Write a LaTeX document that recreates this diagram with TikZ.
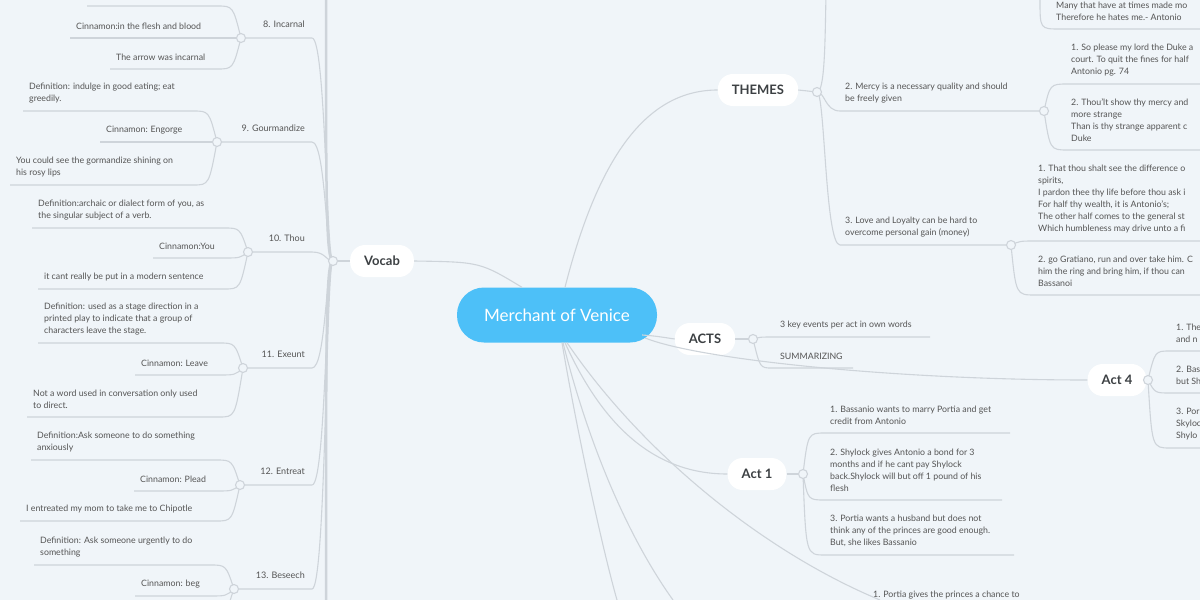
\documentclass[tikz,border=0pt]{standalone}
\usepackage{fontspec}
\setmainfont{Lato}
\definecolor{bg}{HTML}{F0F5F9}
\definecolor{ln}{HTML}{CED4DA}
\definecolor{tx}{HTML}{555555}
\definecolor{hd}{HTML}{3C4043}
\definecolor{mc}{HTML}{4DC0F8}
\tikzset{
 lnk/.style={draw=ln,line width=1.1pt},
 leaf/.style={inner sep=0pt,align=left,text=tx,font=\fontsize{8.8}{12}\selectfont,anchor=south west},
 term/.style={inner sep=0pt,text=tx,font=\fontsize{9}{12}\selectfont,anchor=south east},
 head/.style={fill=white,rounded corners=15pt,text=hd,font=\fontsize{13}{14}\bfseries\selectfont,minimum height=32pt,inner xsep=14pt},
 dot/.style={circle,draw=ln,fill=bg,line width=1.1pt,inner sep=0pt,minimum size=9pt}
}
\newcommand\lleaf[5]{%
 \draw[lnk] (#1,#2) .. controls (#1-8,#3) .. (#1-24,#3) -- (#4,#3);
 \node[leaf] at (#4+6,#3-8) {#5};}
\newcommand\rleaf[5]{%
 \draw[lnk] (#1,#2) .. controls (#1+8,#3) .. (#1+24,#3) -- (#4,#3);
 \node[leaf] at (#1+27,#3-8) {#5};}
\newcommand\vterm[3]{%
 \draw[lnk] (vc) .. controls (326,261) and (326,#2) .. (312,#2) -- (#1,#2);
 \node[term] at (305,#2-10) {#3};}
\begin{document}
\begin{tikzpicture}[x=1pt,y=-1pt]
\useasboundingbox[fill=bg] (0,0) rectangle (1200,600);
\node[fill=mc,rounded corners=27pt,minimum width=200pt,minimum height=55pt,text=white,font=\fontsize{17}{18}\selectfont] (mc) at (557,315) {Merchant of Venice};
\node[head] (vocab) at (382,261) {Vocab};
\node[head] (themes) at (758,90) {THEMES};
\node[head] (acts) at (705,339) {ACTS};
\node[head] (act1) at (757,474) {Act 1};
\node[head] (act4) at (1117,380) {Act 4};
\draw[lnk] (mc.north) ++(-35,0) .. controls (480,262) .. (vocab.east);
\draw[lnk] (mc.north) ++(8,0) .. controls (600,150) and (650,90) .. (themes.west);
\draw[lnk] (mc.east) ++(-15,20) .. controls (655,336) .. (acts.west);
\draw[lnk] (mc.east) ++(-12,23) .. controls (700,360) and (900,380) .. (act4.west);
\draw[lnk] (mc.south) ++(8,0) .. controls (600,420) and (650,474) .. (act1.west);
\draw[lnk] (mc.south) ++(5,0) .. controls (575,420) and (600,540) .. (617,600);
\draw[lnk] (mc.south) ++(6,0) .. controls (590,450) and (630,540) .. (673,600);
\draw[lnk] (mc.south) ++(10,0) .. controls (640,450) and (760,550) .. (880,600);
\coordinate (vc) at (333,261);
\draw[lnk,line width=2.5pt] (vc) .. controls (326,261) and (326,200) .. (326,-5);
\draw[lnk,line width=2.5pt] (vc) .. controls (326,261) and (326,320) .. (326,605);
\draw[lnk] (vocab.west) -- (vc);
\vterm{241}{38}{8. Incarnal}
\lleaf{241}{38}{6}{87}{}
\lleaf{241}{38}{38}{70}{Cinnamon:in the flesh and blood}
\lleaf{241}{38}{69}{110}{The arrow was incarnal}
\node[dot] at (241,38) {};
\vterm{217}{142}{9. Gourmandize}
\lleaf{217}{142}{111}{23}{Definition: indulge in good eating; eat\\greedily.}
\lleaf{217}{142}{142}{100}{Cinnamon: Engorge}
\lleaf{217}{142}{185}{10}{You could see the gormandize shining on\\his rosy lips}
\node[dot] at (217,142) {};
\vterm{248}{252}{10. Thou}
\lleaf{248}{252}{228}{32}{Definition:archaic or dialect form of you, as\\the singular subject of a verb.}
\lleaf{248}{252}{258}{153}{Cinnamon:You}
\lleaf{248}{252}{289}{38}{it cant really be put in a modern sentence}
\node[dot] at (248,252) {};
\vterm{243}{368}{11. Exeunt}
\lleaf{243}{368}{343}{38}{Definition: used as a stage direction in a\\printed play to indicate that a group of\\characters leave the stage.}
\lleaf{243}{368}{375}{135}{Cinnamon: Leave}
\lleaf{243}{368}{417}{27}{Not a word used in conversation only used\\to direct.}
\node[dot] at (243,368) {};
\vterm{240}{485}{12. Entreat}
\lleaf{240}{485}{460}{31}{Definition:Ask someone to do something\\anxiously}
\lleaf{240}{485}{491}{134}{Cinnamon: Plead}
\lleaf{240}{485}{521}{20}{I entreated my mom to take me to Chipotle}
\node[dot] at (240,485) {};
\vterm{234}{589}{13. Beseech}
\lleaf{234}{589}{565}{34}{Definition: Ask someone urgently to do\\something}
\lleaf{234}{589}{596}{135}{Cinnamon: beg}
\draw[lnk] (234,589) .. controls (230,600) .. (229,610);
\node[dot] at (234,589) {};
\node[dot] at (vc) {};
\coordinate (tc) at (817,92);
\draw[lnk] (themes.east) -- (tc);
\draw[lnk] (tc) .. controls (825,92) and (825,40) .. (826,-5);
\draw[lnk] (tc) .. controls (825,92) and (825,111) .. (840,111) -- (1040,111);
\node[leaf] at (845,103) {2. Mercy is a necessary quality and should\\be freely given};
\draw[lnk] (tc) .. controls (825,92) and (825,245) .. (840,245) -- (1007,245);
\node[leaf] at (845,237) {3. Love and Loyalty can be hard to\\overcome personal gain (money)};
\node[dot] at (tc) {};
\draw[lnk] (1040,0) .. controls (1040,29) .. (1060,29) -- (1210,29);
\node[leaf] at (1056,21) {Many that have at times made mo\\Therefore he hates me.- Antonio};
\coordinate (m2) at (1044,111);
\draw[lnk] (m2) .. controls (1050,84) .. (1068,84) -- (1210,84);
\node[leaf] at (1071,76) {1. So please my lord the Duke a\\court. To quit the fines for half\\Antonio pg. 74};
\draw[lnk] (m2) .. controls (1050,150) .. (1068,150) -- (1210,150);
\node[leaf] at (1071,142) {2. Thou'lt show thy mercy and\\more strange\\Than is thy strange apparent c\\Duke};
\node[dot] at (m2) {};
\coordinate (m3) at (1011,245);
\draw[lnk] (m3) .. controls (1020,241) .. (1035,241) -- (1210,241);
\node[leaf] at (1038,233) {1. That thou shalt see the difference o\\spirits,\\I pardon thee thy life before thou ask i\\For half thy wealth, it is Antonio's;\\The other half comes to the general st\\Which humbleness may drive unto a fi};
\draw[lnk] (m3) .. controls (1016,295) .. (1035,295) -- (1210,295);
\node[leaf] at (1038,287) {2. go Gratiano, run and over take him. C\\him the ring and bring him, if thou can\\Bassanoi};
\node[dot] at (m3) {};
\coordinate (ac) at (753,339);
\draw[lnk] (acts.east) -- (ac);
\draw[lnk] (ac) .. controls (760,337) .. (775,337) -- (930,337);
\node[leaf] at (780,329) {3 key events per act in own words};
\draw[lnk] (ac) .. controls (760,368) .. (772,368) -- (853,368);
\node[leaf] at (780,360) {SUMMARIZING};
\node[dot] at (ac) {};
\coordinate (a4) at (1148,380);
\draw[lnk] (act4.east) -- (a4);
\draw[lnk] (a4) .. controls (1155,351) .. (1170,351) -- (1210,351);
\node[leaf] at (1176,343) {1. The\\and n};
\draw[lnk] (a4) .. controls (1155,393) .. (1170,393) -- (1210,393);
\node[leaf] at (1176,385) {2. Bas\\but Sh};
\draw[lnk] (a4) .. controls (1152,448) .. (1170,448) -- (1210,448);
\node[leaf] at (1176,440) {3. Por\\Skyloc\\Shylo};
\node[dot] at (a4) {};
\coordinate (a1) at (803,474);
\draw[lnk] (act1.east) -- (a1);
\draw[lnk] (a1) .. controls (808,433) .. (825,433) -- (1010,433);
\node[leaf] at (830,425) {1. Bassanio wants to marry Portia and get\\credit from Antonio};
\draw[lnk] (a1) .. controls (808,500) .. (825,500) -- (1002,500);
\node[leaf] at (830,492) {2. Shylock gives Antonio a bond for 3\\months and if he cant pay Shylock\\back.Shylock will but off 1 pound of his\\flesh};
\draw[lnk] (a1) .. controls (806,555) .. (825,555) -- (1014,555);
\node[leaf] at (830,547) {3. Portia wants a husband but does not\\think any of the princes are good enough.\\But, she likes Bassanio};
\node[dot] at (a1) {};
\node[leaf,anchor=base west] at (873,597) {1. Portia gives the princes a chance to};
\end{tikzpicture}
\end{document}
